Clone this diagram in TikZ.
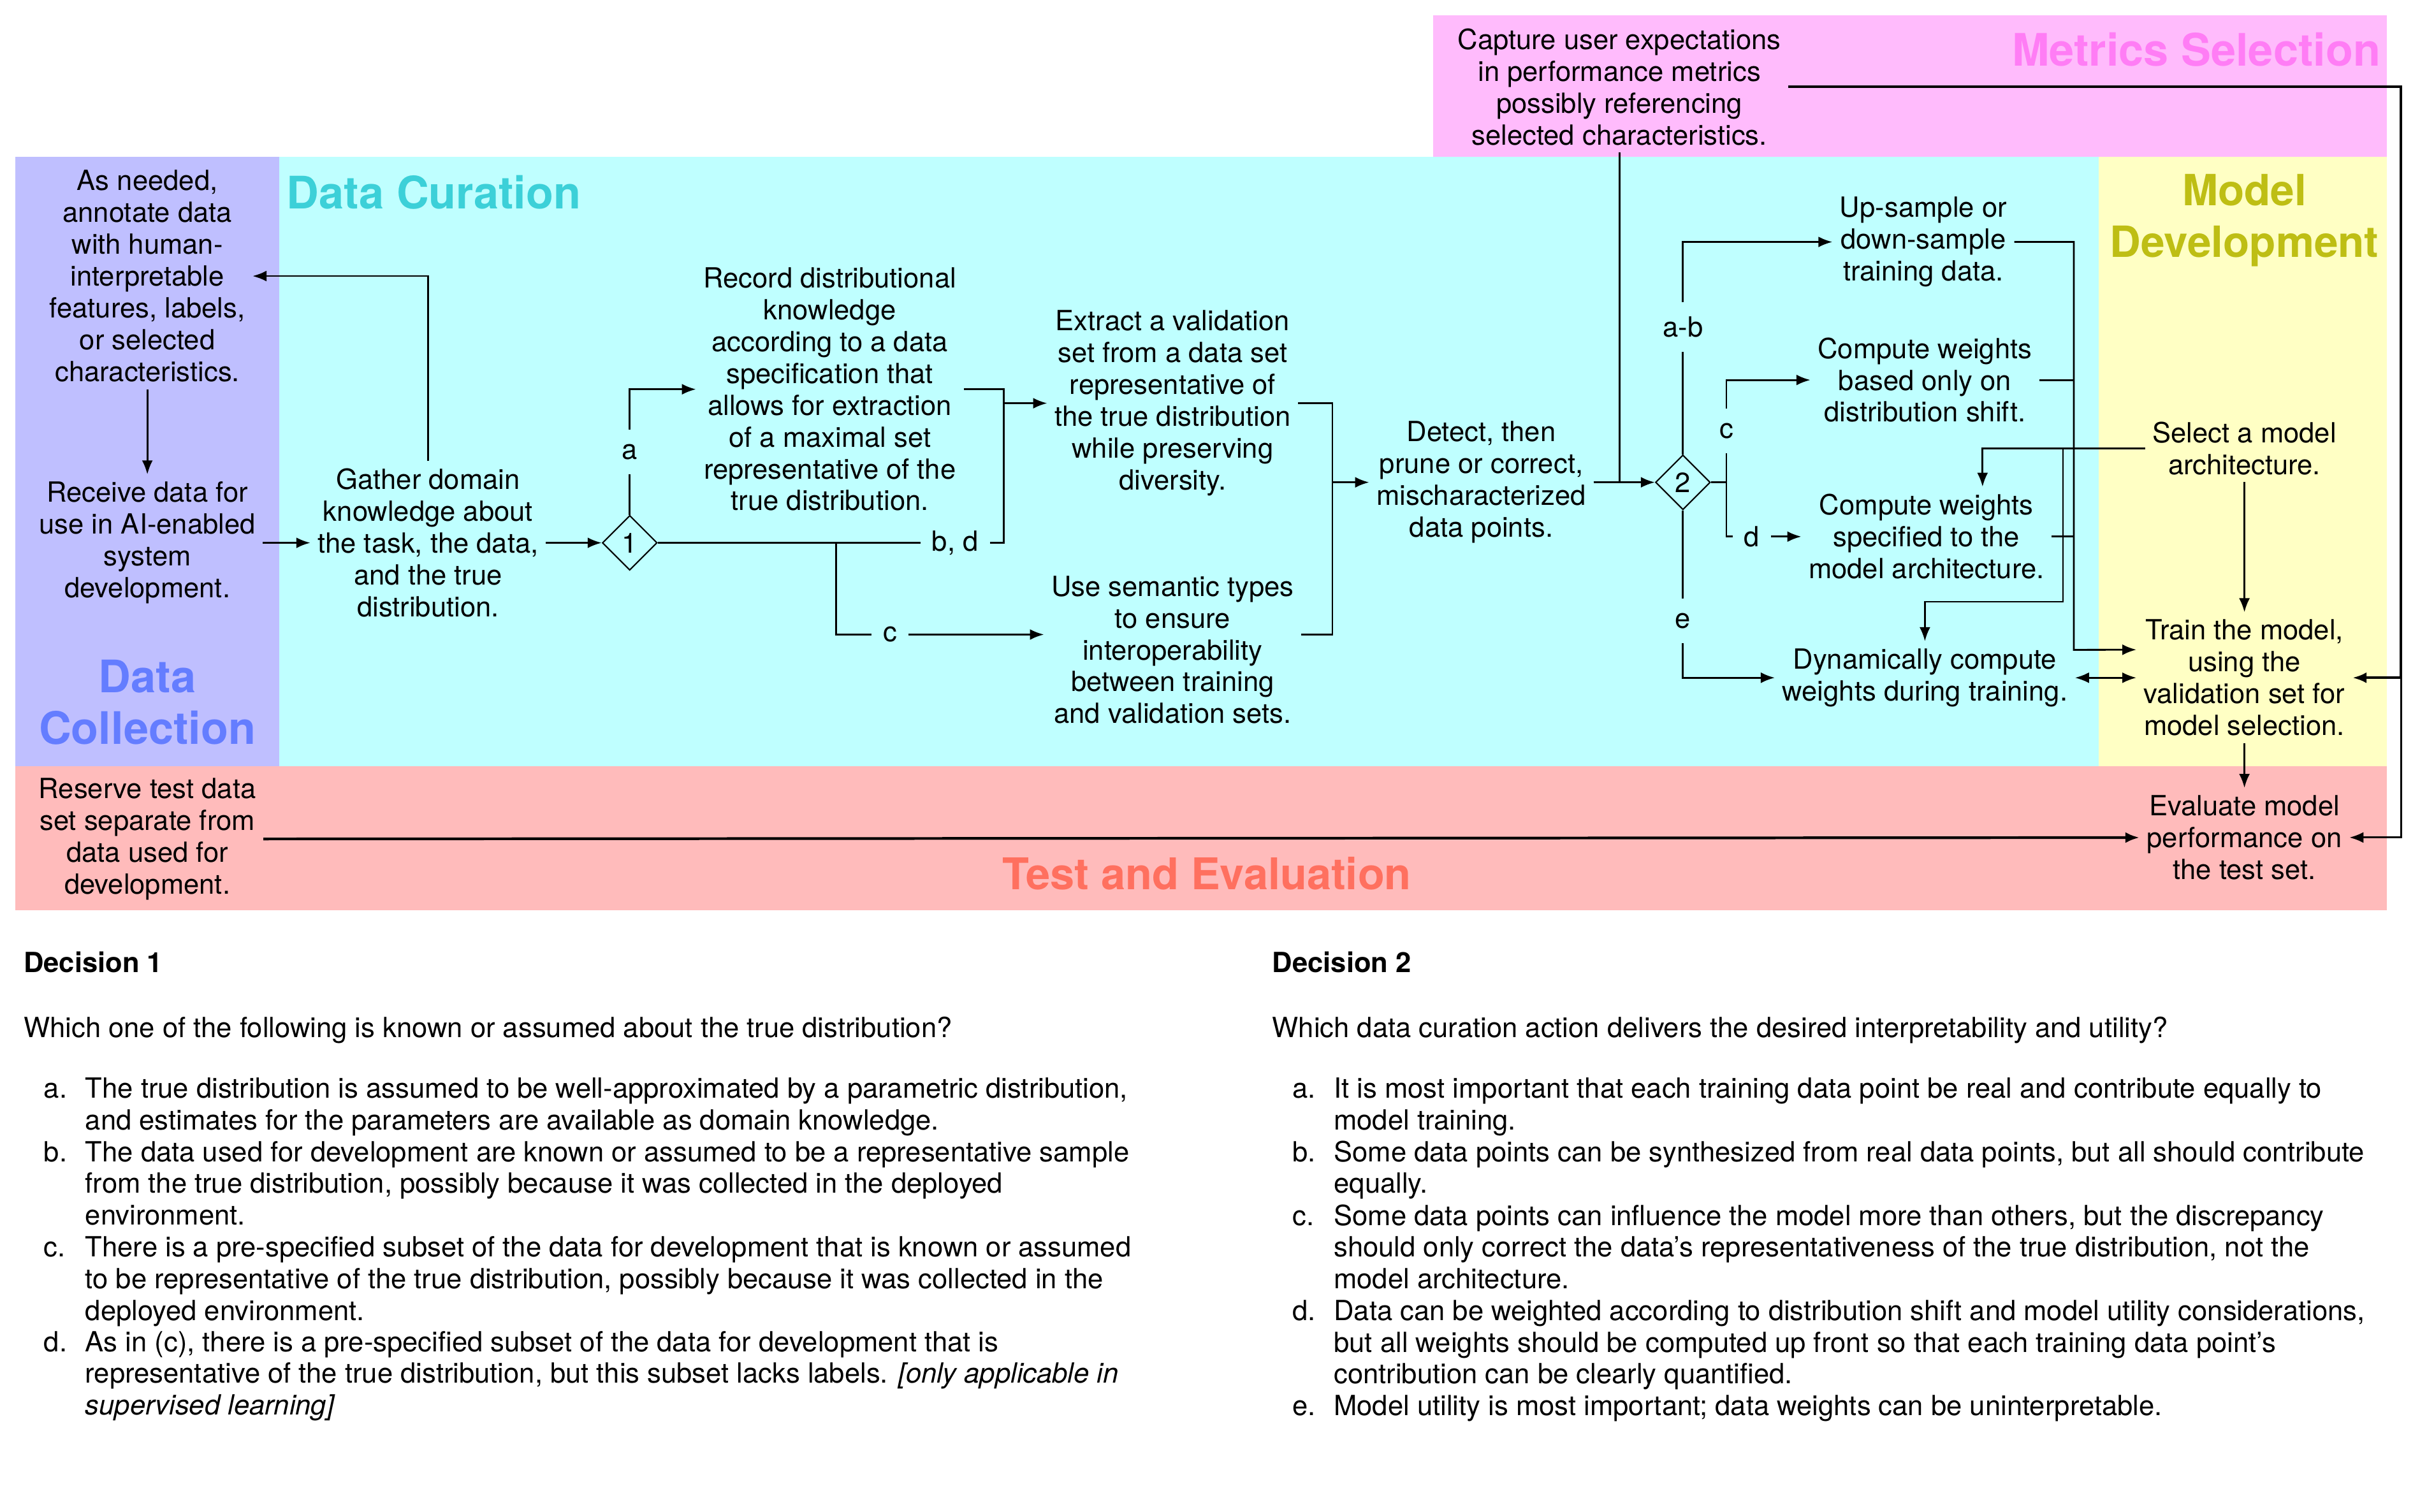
\documentclass[tikz,border=0pt]{standalone}
\usepackage{fontspec}
\setmainfont{TeX Gyre Heros}
\usepackage{tikz}
\usetikzlibrary{positioning, shapes.geometric, arrows.meta}

\definecolor{CollectFill}{RGB}{191,191,255}
\definecolor{CurateFill}{RGB}{191,255,255}
\definecolor{ModelFill}{RGB}{255,255,196}
\definecolor{MetricsFill}{RGB}{255,187,252}
\definecolor{TestFill}{RGB}{255,187,187}
\definecolor{CollectTitle}{RGB}{100,125,255}
\definecolor{CurateTitle}{RGB}{60,208,216}
\definecolor{ModelTitle}{RGB}{190,190,20}
\definecolor{MetricsTitle}{RGB}{255,125,245}
\definecolor{TestTitle}{RGB}{255,112,95}

\tikzset{StepText/.style={%
    align=center,%
    inner sep=1.1mm,%
    font=\fontsize{12.4}{14.2}\selectfont,%
}}
\tikzset{Decision/.style={%
    shape=diamond,%
    draw,%
    line width=0.6pt,%
    minimum width=8.6mm,%
    minimum height=8.6mm,%
    inner sep=0pt,%
    font=\fontsize{12.4}{14.2}\selectfont,%
}}
\tikzset{BranchLabel/.style={%
    fill=CurateFill,%
    inner xsep=1.8mm,%
    inner ysep=2.3mm,%
    font=\fontsize{12.4}{14.2}\selectfont,%
}}
\tikzset{RegionTitle/.style={%
    align=center,%
    inner sep=0pt,%
    font=\fontsize{20}{23}\selectfont\bfseries,%
}}
\tikzset{ChoiceText/.style={%
    anchor=base west,%
    inner sep=0pt,%
    font=\fontsize{12.4}{14.1}\selectfont,%
}}
\tikzset{NormalEdge/.style={%
    line width=0.8pt,%
}}
\tikzset{EdgePath/.style={%
    -{Latex[length=2.2mm,width=1.7mm]},%
    line width=0.8pt,%
}}
\tikzset{BoldPath/.style={%
    -{Latex[length=2.2mm,width=1.7mm]},%
    line width=1.2pt,%
}}
\tikzset{BothPath/.style={%
    {Latex[length=2.2mm,width=1.7mm]}-{Latex[length=2.2mm,width=1.7mm]},%
    line width=0.8pt,%
}}
\NewDocumentCommand{\choiceItem}{m m}{%
    \begin{tabular}[t]{@{}p{6.5mm}@{}l@{}}#1 & #2\end{tabular}%
}

\begin{document}
\begin{tikzpicture}[x=0.2433mm, y=-0.2433mm]
    \useasboundingbox (0,0) rectangle (1560.2,974.9);

    % swim lanes
    \fill[MetricsFill] (924,10) rectangle (1539,101);
    \fill[CollectFill] (10,101) rectangle (180,494);
    \fill[CurateFill] (180,101) rectangle (1353,494);
    \fill[ModelFill] (1353,101) rectangle (1539,494);
    \fill[TestFill] (10,494) rectangle (1539,587);

    \node[RegionTitle, text=CurateTitle, anchor=west] (curatetitle) at (184.6,124) {Data Curation};
    \node[RegionTitle, text=CollectTitle] (collecttitle) at (95,453) {Data\\Collection};
    \node[RegionTitle, text=MetricsTitle, anchor=east] (metricstitle) at (1535,32) {Metrics Selection};
    \node[RegionTitle, text=ModelTitle, font=\fontsize{19.2}{23}\selectfont\bfseries] (modeltitle) at (1447,142) {Model\\Development};
    \node[RegionTitle, text=TestTitle, font=\fontsize{19.5}{23}\selectfont\bfseries] (testtitle) at (778,563) {Test and Evaluation};

    % steps
    \node[StepText] (annotate) at (95,178) {As needed,\\annotate data\\with human-\\interpretable\\features, labels,\\or selected\\characteristics.};
    \node[StepText] (receive) at (95,350) {Receive data for\\use in AI-enabled\\system\\development.};
    \node[StepText] (gather) at (276,350) {Gather domain\\knowledge about\\the task, the data,\\and the true\\distribution.};
    \node[Decision] (d1) at (406,350) {1};
    \node[StepText] (record) at (535,251) {Record distributional\\knowledge\\according to a data\\specification that\\allows for extraction\\of a maximal set\\representative of the\\true distribution.};
    \node[StepText] (extract) at (756,260) {Extract a validation\\set from a data set\\representative of\\the true distribution\\while preserving\\diversity.};
    \node[StepText] (usesem) at (756,419) {Use semantic types\\to ensure\\interoperability\\between training\\and validation sets.};
    \node[StepText] (detect) at (955,311) {Detect, then\\prune or correct,\\mischaracterized\\data points.};
    \node[Decision] (d2) at (1085,311) {2};
    \node[StepText] (capture) at (1044,56) {Capture user expectations\\in performance metrics\\possibly referencing\\selected characteristics.};
    \node[StepText] (upsample) at (1240,156) {Up-sample or\\down-sample\\training data.};
    \node[StepText] (cshift) at (1241,245) {Compute weights\\based only on\\distribution shift.};
    \node[StepText] (carch) at (1242,346) {Compute weights\\specified to the\\model architecture.};
    \node[StepText] (dyncomp) at (1241,437) {Dynamically compute\\weights during training.};
    \node[StepText] (select) at (1447,289) {Select a model\\architecture.};
    \node[StepText] (train) at (1447,437) {Train the model,\\using the\\validation set for\\model selection.};
    \node[StepText] (evaluate) at (1447,540) {Evaluate model\\performance on\\the test set.};
    \node[StepText] (reserve) at (95,541) {Reserve test data\\set separate from\\data used for\\development.};

    % junctions
    \coordinate (bdturn) at (647,350);
    \coordinate (csplit) at (539,350);
    \coordinate (jrec) at (647,260);
    \coordinate (jdet) at (859,311);
    \coordinate (jcd) at (1113,311);
    \coordinate (jtrain) at (1337,419);
    \coordinate (jsel) at (1330,289);
    \coordinate (jdyn) at (1330,388);
    \coordinate (jright) at (1548,437);

    \draw[EdgePath] (annotate) -- (receive);
    \draw[EdgePath] (receive) -- (gather);
    \draw[EdgePath] (gather.north) |- (annotate.east);
    \draw[EdgePath] (gather) -- (d1);
    \draw[EdgePath] (d1.north) |- node[BranchLabel, pos=0.25]{a} (record.west);
    \draw[NormalEdge] (d1.east) -- node[BranchLabel, pos=0.86]{b, d} (bdturn) |- (record.east);
    \draw[EdgePath] (jrec) -- (extract.west);
    \draw[EdgePath] (csplit) |- node[BranchLabel, pos=0.63]{c} ([yshift=2.4mm]usesem.west);
    \draw[NormalEdge] (extract.east) -| (jdet);
    \draw[NormalEdge] ([yshift=2.4mm]usesem.east) -| (jdet);
    \draw[EdgePath] (jdet) -- (detect.west);
    \draw[EdgePath] (detect) -- (d2);
    \draw[NormalEdge] (capture.south) -- (capture.south |- detect.east);
    \draw[EdgePath] (d2.north) |- node[BranchLabel, pos=0.3]{a-b} (upsample.west);
    \draw[NormalEdge] (d2.east) -- (jcd);
    \draw[EdgePath] (jcd) |- node[BranchLabel, pos=0.25]{c} (cshift.west);
    \draw[EdgePath] (jcd) |- node[BranchLabel, pos=0.67]{d} (carch.west);
    \draw[EdgePath] (d2.south) |- node[BranchLabel, pos=0.33]{e} (dyncomp.west);
    \draw[EdgePath] (upsample.east) -| (jtrain) -- ([yshift=4.4mm]train.west);
    \draw[NormalEdge] (cshift.east) -- (cshift.east -| jtrain);
    \draw[NormalEdge] (carch.east) -- (carch.east -| jtrain);
    \draw[EdgePath] (select.west) -| ([xshift=8.8mm]carch.north);
    \draw[EdgePath] (jsel) -- (jdyn) -| (dyncomp.north);
    \draw[EdgePath] (select) -- (train);
    \draw[BothPath] (dyncomp) -- (train);
    \draw[BoldPath] (capture.east) -| (jright) -- (train.east);
    \draw[EdgePath] (jright) |- (evaluate.east);
    \draw[EdgePath] (train) -- (evaluate);
    \draw[BoldPath] (reserve) -- (evaluate);

    % decisions
    \node[ChoiceText, font=\fontsize{12.4}{14.1}\selectfont\bfseries] (dec1head) at (15,627) {Decision 1};
    \node[ChoiceText] (dec1q) at (15,669) {Which one of the following is known or assumed about the true distribution?};
    \node[ChoiceText] (dec1a) at (28,708) {\choiceItem{a.}{The true distribution is assumed to be well-approximated by a parametric distribution,\\ & and estimates for the parameters are available as domain knowledge.}};
    \node[ChoiceText] (dec1b) at (28,749) {\choiceItem{b.}{The data used for development are known or assumed to be a representative sample\\ & from the true distribution, possibly because it was collected in the deployed\\ & environment.}};
    \node[ChoiceText] (dec1c) at (28,810.5) {\choiceItem{c.}{There is a pre-specified subset of the data for development that is known or assumed\\ & to be representative of the true distribution, possibly because it was collected in the\\ & deployed environment.}};
    \node[ChoiceText] (dec1d) at (28,871.5) {\choiceItem{d.}{As in (c), there is a pre-specified subset of the data for development that is\\ & representative of the true distribution, but this subset lacks labels. \textit{[only applicable in}\\ & \textit{supervised learning]}}};

    \node[ChoiceText, font=\fontsize{12.4}{14.1}\selectfont\bfseries] (dec2head) at (820,627) {Decision 2};
    \node[ChoiceText] (dec2q) at (820,669) {Which data curation action delivers the desired interpretability and utility?};
    \node[ChoiceText] (dec2a) at (833,708) {\choiceItem{a.}{It is most important that each training data point be real and contribute equally to\\ & model training.}};
    \node[ChoiceText] (dec2b) at (833,749) {\choiceItem{b.}{Some data points can be synthesized from real data points, but all should contribute\\ & equally.}};
    \node[ChoiceText] (dec2c) at (833,790) {\choiceItem{c.}{Some data points can influence the model more than others, but the discrepancy\\ & should only correct the data’s representativeness of the true distribution, not the\\ & model architecture.}};
    \node[ChoiceText] (dec2d) at (833,851.5) {\choiceItem{d.}{Data can be weighted according to distribution shift and model utility considerations,\\ & but all weights should be computed up front so that each training data point’s\\ & contribution can be clearly quantified.}};
    \node[ChoiceText] (dec2e) at (833,912.5) {\choiceItem{e.}{Model utility is most important; data weights can be uninterpretable.}};
\end{tikzpicture}
\end{document}
